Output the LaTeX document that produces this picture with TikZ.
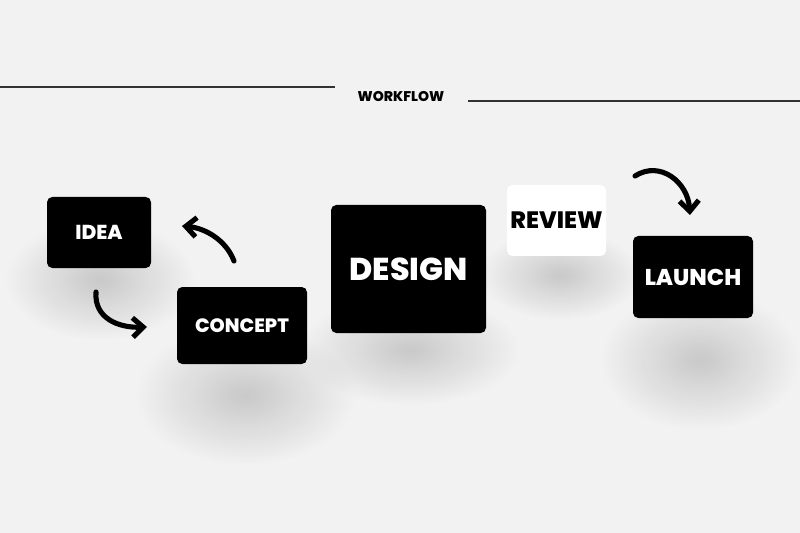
\documentclass[tikz,border=0pt]{standalone}
\usepackage{fontspec}
\setmainfont{Poppins}[BoldFont={Poppins ExtraBold}]
\usetikzlibrary{arrows.meta,fadings}
\tikzfading[name=softfade, inner color=transparent!0, outer color=transparent!100]
\tikzset{
  card/.style={fill=black, rounded corners=3pt, inner sep=0pt, text=white, font=\bfseries},
  wcard/.style={fill=white, rounded corners=3pt, inner sep=0pt, text=black, font=\bfseries},
  flow/.style={line width=2.9pt, line cap=round, -{Straight Barb[length=6pt,width=11pt,line width=2.9pt]}},
  rule/.style={line width=0.9pt, draw=black!80},
  soft/.style={fill=black, opacity=0.17, path fading=softfade}
}
\begin{document}
\begin{tikzpicture}[x=0.02cm,y=-0.02cm]
\useasboundingbox (0,0) rectangle (800,533);
\fill[black!5] (0,0) rectangle (800,533);
% soft shadows
\fill[soft] (100,280) ellipse (95 and 60);
\fill[soft] (560,275) ellipse (80 and 45);
\fill[soft] (410,350) ellipse (110 and 55);
\fill[soft] (700,360) ellipse (100 and 70);
\fill[soft] (245,395) ellipse (110 and 70);
% header
\node[font=\bfseries\fontsize{8}{9}\selectfont] (title) at (401,97) {WORKFLOW};
\coordinate (l0) at (0,87);
\coordinate (l1) at (335,87);
\coordinate (r0) at (468,101);
\coordinate (r1) at (800,101);
\draw[rule] (l0) -- (l1);
\draw[rule] (r0) -- (r1);
% cards
\node[card, minimum width=104*0.02cm, minimum height=71*0.02cm, font=\bfseries\fontsize{11.5}{12}\selectfont] (idea) at (99,232.5) {IDEA};
\node[card, minimum width=130*0.02cm, minimum height=77*0.02cm, font=\bfseries\fontsize{11}{12}\selectfont] (concept) at (242,325.5) {CONCEPT};
\node[card, minimum width=155*0.02cm, minimum height=128*0.02cm, font=\bfseries\fontsize{18}{20}\selectfont] (design) at (408.5,269) {DESIGN};
\node[wcard, minimum width=99*0.02cm, minimum height=71*0.02cm, font=\bfseries\fontsize{13.5}{14}\selectfont] (review) at (556.5,220.5) {REVIEW};
\node[card, minimum width=120*0.02cm, minimum height=82*0.02cm, font=\bfseries\fontsize{13}{14}\selectfont] (launch) at (693,277) {LAUNCH};
% arrows
\coordinate (a1s) at (96,292);
\coordinate (a1e) at (147,327);
\coordinate (a2s) at (234,261);
\coordinate (a2e) at (182,226);
\coordinate (a3s) at (635,176);
\coordinate (a3e) at (690,215);
\draw[flow] (a1s) .. controls (94,318) and (118,328) .. (a1e);
\draw[flow] (a2s) .. controls (226,240) and (205,228) .. (a2e);
\draw[flow] (a3s) .. controls (660,160) and (688,182) .. (a3e);
\end{tikzpicture}
\end{document}
